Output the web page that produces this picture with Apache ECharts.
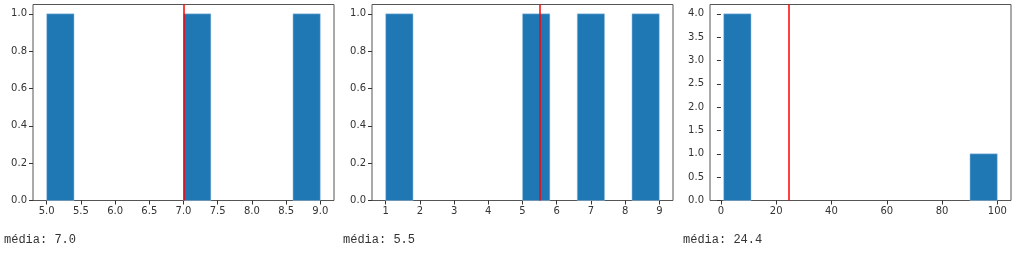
<!DOCTYPE html>
<html>
<head>
<meta charset="utf-8">
<script src="https://cdn.jsdelivr.net/npm/echarts@6/dist/echarts.min.js"></script>
<style>html,body{margin:0;padding:0;background:#fff}#c{width:1024px;height:261px}</style>
</head>
<body>
<div id="c"></div>
<script>
// Samples behind each histogram
const samples1 = [5, 7, 9];
const samples2 = [1, 5, 7, 9];
const samples3 = [1, 5, 6, 10, 100];
const binCount = 10;

// Tick labels
const xTicks1 = [5.0, 5.5, 6.0, 6.5, 7.0, 7.5, 8.0, 8.5, 9.0];
const xTicks2 = [1, 2, 3, 4, 5, 6, 7, 8, 9];
const xTicks3 = [0, 20, 40, 60, 80, 100];
const yTicks1 = [0, 0.2, 0.4, 0.6, 0.8, 1.0];
const yTicks2 = [0, 0.2, 0.4, 0.6, 0.8, 1.0];
const yTicks3 = [0, 0.5, 1.0, 1.5, 2.0, 2.5, 3.0, 3.5, 4.0];

function hist(vals, n) {
  const mn = Math.min(...vals), mx = Math.max(...vals);
  const w = (mx - mn) / n;
  const counts = new Array(n).fill(0);
  vals.forEach(v => { let i = Math.floor((v - mn) / w); if (i >= n) i = n - 1; counts[i]++; });
  const out = [];
  for (let i = 0; i < n; i++) out.push([mn + i * w, mn + (i + 1) * w, counts[i]]);
  return out;
}
function mean(v) { return v.reduce((a, b) => a + b, 0) / v.length; }
function extent(vals, m) { const mn = Math.min(...vals), mx = Math.max(...vals); const r = mx - mn; return [mn - r * m, mx + r * m]; }

const panels = [
  { s: samples1, xt: xTicks1, yt: yTicks1, xf: v => v.toFixed(1), yf: v => v.toFixed(1), left: 33, width: 301, textLeft: 4 },
  { s: samples2, xt: xTicks2, yt: yTicks2, xf: v => String(v), yf: v => v.toFixed(1), left: 372, width: 301, textLeft: 343 },
  { s: samples3, xt: xTicks3, yt: yTicks3, xf: v => String(v), yf: v => v.toFixed(1), left: 710, width: 301, textLeft: 683 }
];

const grids = [], xAxes = [], yAxes = [], series = [], titles = [];
panels.forEach((p, i) => {
  const h = hist(p.s, binCount);
  const maxC = Math.max(...h.map(d => d[2]));
  const xe = extent(p.s, 0.05);
  const m = mean(p.s);
  grids.push({ left: p.left, width: p.width, top: 4.5, height: 196, show: true, borderColor: '#555', borderWidth: 1, containLabel: false });
  const axisCommon = {
    axisLine: { show: false },
    splitLine: { show: false },
    axisTick: { show: true, inside: false, length: 4, lineStyle: { color: '#333', width: 1 } },
  };
  xAxes.push(Object.assign({}, axisCommon, {
    type: 'value', gridIndex: i, min: xe[0], max: xe[1],
    axisTick: Object.assign({}, axisCommon.axisTick, { customValues: p.xt }),
    axisLabel: { customValues: p.xt, formatter: p.xf, margin: 6, fontFamily: 'DejaVu Sans', fontSize: 10, color: '#333' }
  }));
  yAxes.push(Object.assign({}, axisCommon, {
    type: 'value', gridIndex: i, min: 0, max: maxC * 1.05,
    axisTick: Object.assign({}, axisCommon.axisTick, { customValues: p.yt }),
    axisLabel: { customValues: p.yt, formatter: p.yf, margin: 6, fontFamily: 'DejaVu Sans', fontSize: 10, color: '#333' }
  }));
  series.push({
    type: 'custom', xAxisIndex: i, yAxisIndex: i, data: h, silent: true,
    renderItem: function (params, api) {
      const c = api.value(2);
      if (!c) return null;
      const p0 = api.coord([api.value(0), c]);
      const p1 = api.coord([api.value(1), 0]);
      return { type: 'rect', shape: { x: p0[0], y: p0[1], width: p1[0] - p0[0], height: p1[1] - p0[1] }, style: { fill: '#1f77b4', stroke: '#a9cbe6', lineWidth: 0.5 } };
    },
    markLine: { silent: true, symbol: 'none', animation: false, label: { show: false },
      lineStyle: { color: '#ff0000', width: 1.5, type: 'solid' }, data: [{ xAxis: m }] }
  });
  titles.push({ text: 'média: ' + m.toFixed(1), left: p.textLeft, top: 234, padding: 0,
    textStyle: { fontFamily: 'Liberation Mono', fontSize: 12, fontWeight: 'normal', color: '#333' } });
});

const chart = echarts.init(document.getElementById('c'), null, { renderer: 'canvas' });
chart.setOption({ animation: false, title: titles, grid: grids, xAxis: xAxes, yAxis: yAxes, series: series });
</script>
</body>
</html>
